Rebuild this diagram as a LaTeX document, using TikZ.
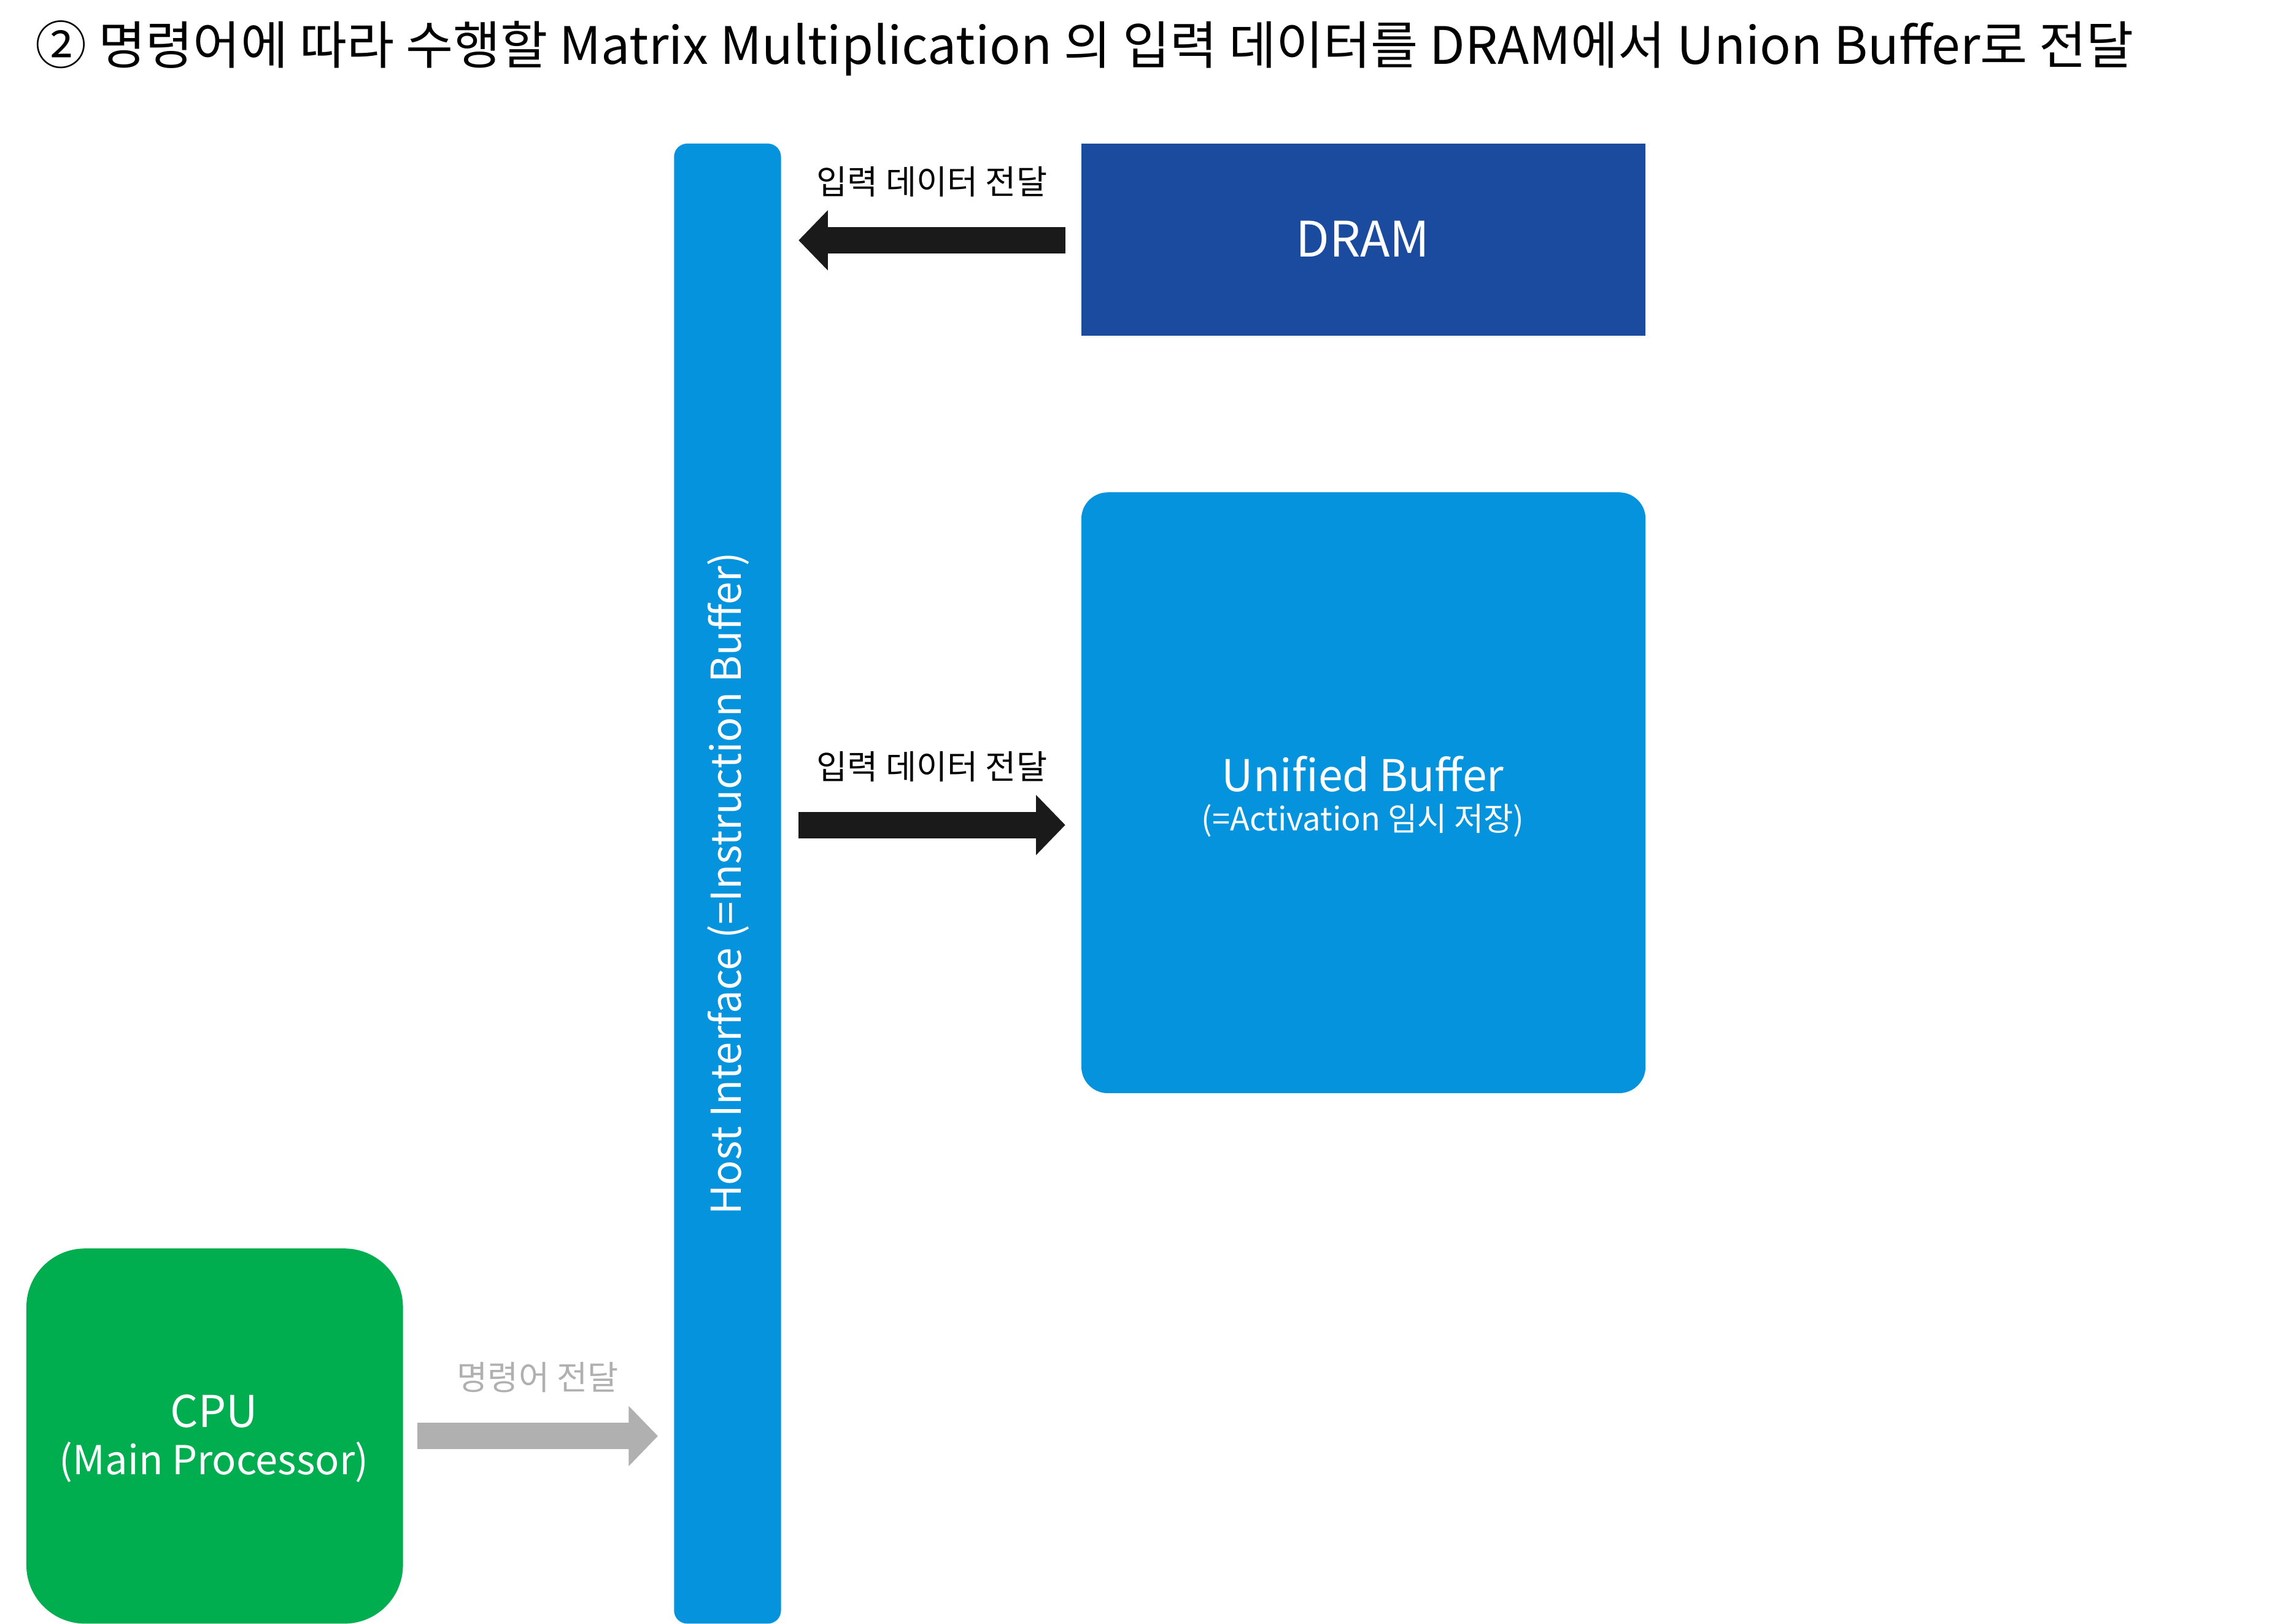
\documentclass[tikz,border=0pt]{standalone}
\usepackage{fontspec}
\setmainfont{Noto Sans CJK KR}
\usetikzlibrary{arrows.meta}
\definecolor{bblue}{HTML}{0593DD}
\definecolor{dblue}{HTML}{1A4B9E}
\definecolor{cgreen}{HTML}{00AE4F}
\definecolor{agray}{HTML}{B0B0B0}
\definecolor{ablack}{HTML}{1A1A1A}
\newcommand{\fs}[1]{\fontsize{#1}{#1}\selectfont}
\begin{document}
\begin{tikzpicture}[x=0.02cm,y=-0.02cm,
  box/.style={draw=none,inner sep=0,anchor=north west},
  wtxt/.style={text=white,align=center},
  arr/.style={line width=0.36cm,-{Triangle[length=0.4cm,width=0.8cm]}},
  lbl/.style={font=\fs{13pt}}]
\useasboundingbox (0,0) rectangle (1556,1108);
\node[anchor=west,font=\fs{20pt}] (title) at (18,33) {② 명령어에 따라 수행할 Matrix Multiplication 의 입력 데이터를 DRAM에서 Union Buffer로 전달};
\fill[bblue,rounded corners=0.18cm] (460,98) rectangle (533,1108);
\node[wtxt,rotate=90,font=\fs{16pt}] (host) at (497,603) {Host Interface (=Instruction Buffer)};
\fill[dblue] (738,98) rectangle (1123,229);
\node[wtxt,font=\fs{19pt}] (dram) at (930,163) {DRAM};
\fill[bblue,rounded corners=0.36cm] (738,336) rectangle (1123,746);
\node[wtxt,font=\fs{17pt}] (ub) at (930,528) {Unified Buffer};
\node[wtxt,font=\fs{12.5pt}] (ubs) at (930,560) {(=Activation 임시 저장)};
\fill[cgreen,rounded corners=0.8cm] (18,852) rectangle (275,1108);
\node[wtxt,font=\fs{17pt}] (cpu) at (146,963) {CPU};
\node[wtxt,font=\fs{15.5pt}] (cpus) at (146,998) {(Main Processor)};
\coordinate (a1s) at (727,164); \coordinate (a1e) at (545,164);
\coordinate (a2s) at (545,563); \coordinate (a2e) at (727,563);
\coordinate (a3s) at (285,980); \coordinate (a3e) at (449,980);
\draw[arr,ablack] (a1s) -- (a1e);
\draw[arr,ablack] (a2s) -- (a2e);
\draw[arr,agray] (a3s) -- (a3e);
\node[lbl] (l1) at (636,124) {입력 데이터 전달};
\node[lbl] (l2) at (636,523) {입력 데이터 전달};
\node[lbl,text=agray] (l3) at (367,940) {명령어 전달};
\end{tikzpicture}
\end{document}
